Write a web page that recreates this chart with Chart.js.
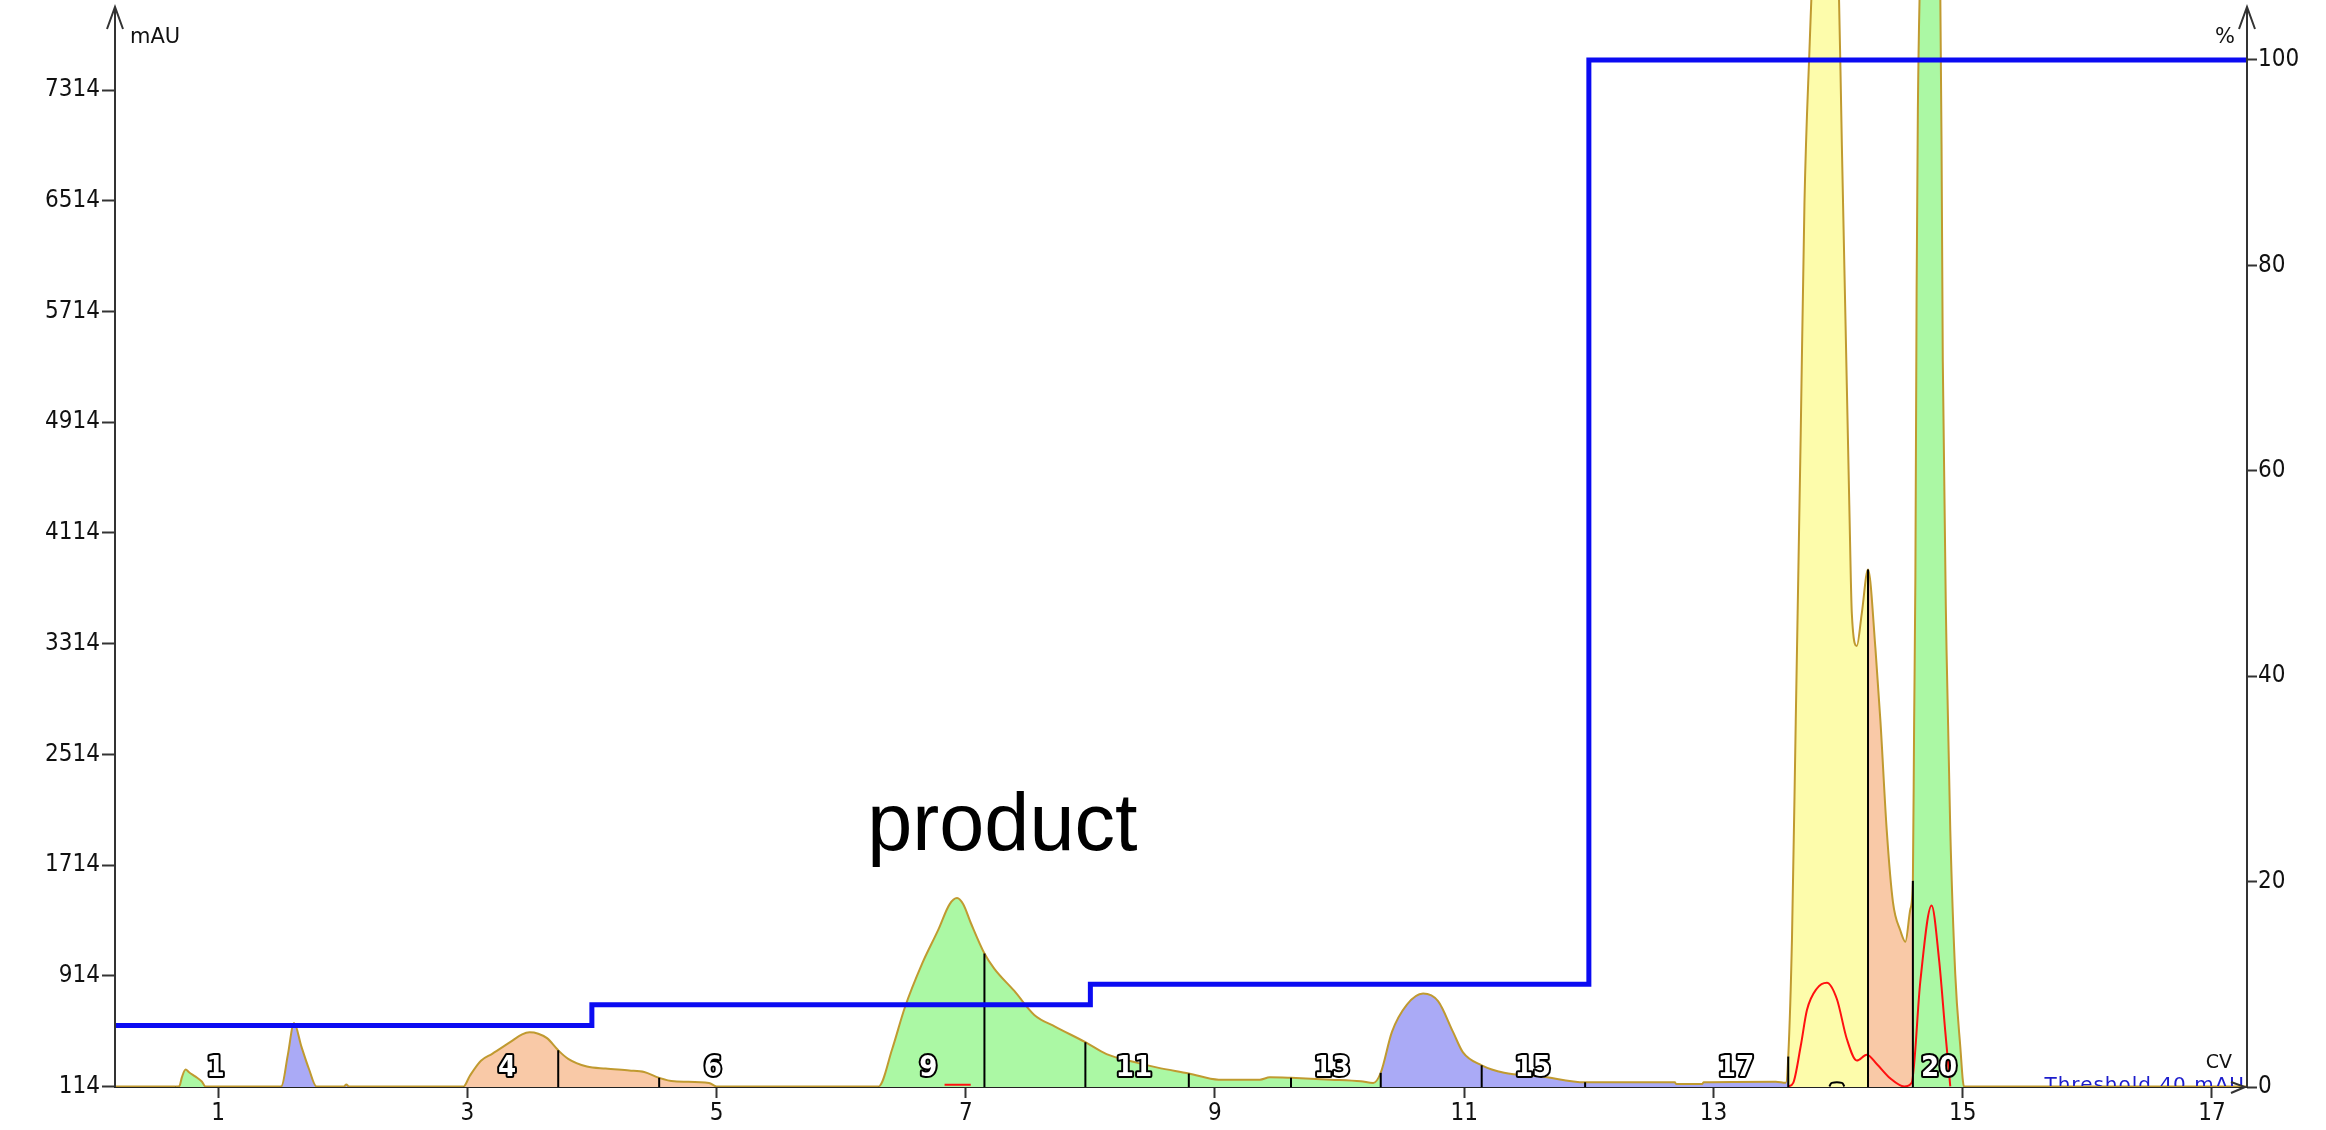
<!DOCTYPE html>
<html>
<head>
<meta charset="utf-8">
<title>Chromatogram</title>
<script src="https://cdn.jsdelivr.net/npm/chart.js@4.4.1/dist/chart.umd.min.js"></script>
<style>
  html, body { margin: 0; padding: 0; background: #fff; }
  canvas { display: block; }
</style>
</head>
<body>
<canvas id="chart" width="2326" height="1130"></canvas>
<script>
// UV trace, mAU against CV
const uvCV = [0.17, 0.66, 0.69, 0.71, 0.74, 0.77, 0.82, 0.87, 0.90, 1.49, 1.51, 1.56, 1.61, 1.67, 1.73, 1.79,
  2.01, 2.03, 2.05, 2.97, 3.02, 3.11, 3.20, 3.35, 3.44, 3.50, 3.57, 3.64, 3.73, 3.81, 3.96, 4.11, 4.30, 4.42,
  4.54, 4.66, 4.94, 5.00, 6.30, 6.41, 6.51, 6.65, 6.78, 6.87, 6.93, 6.98, 7.04, 7.15, 7.23, 7.39, 7.55, 7.72,
  7.96, 8.13, 8.37, 8.54, 8.79, 9.03, 9.36, 9.44, 9.61, 9.93, 10.17, 10.27, 10.33, 10.42, 10.54, 10.67, 10.79,
  10.91, 10.99, 11.14, 11.32, 11.61, 11.97, 12.69, 12.70, 12.91, 12.92, 13.50, 13.58, 13.60, 13.63, 13.66,
  13.70, 13.73, 13.77, 13.82, 13.88, 13.94, 14.00, 14.03, 14.06, 14.09, 14.11, 14.15, 14.19, 14.24, 14.30,
  14.34, 14.39, 14.44, 14.50, 14.54, 14.58, 14.60, 14.61, 14.62, 14.63, 14.64, 14.67, 14.72, 14.78, 14.82,
  14.83, 14.84, 14.87, 14.90, 14.94, 14.98, 15.01, 17.28];
const uvMAU = [114, 114, 116, 180, 236, 215, 185, 150, 114, 114, 116, 340, 572, 400, 240, 114,
  114, 128, 114, 114, 190, 300, 350, 438, 490, 505, 495, 463, 375, 313, 258, 243, 230, 219,
  176, 151, 139, 114, 114, 385, 681, 1001, 1247, 1430, 1475, 1430, 1297, 1075, 964, 804, 631, 545,
  434, 348, 286, 250, 208, 163, 163, 180, 176, 163, 151, 139, 213, 508, 705, 785, 730,
  508, 360, 267, 213, 188, 144, 144, 131, 131, 144, 148, 140, 330, 1186, 2749,
  4832, 6500, 7600, 8700, 9300, 9300, 8300, 6919, 5613, 4312, 3533, 3297, 3533, 3850, 3272,
  2749, 1968, 1446, 1239, 1160, 1396, 1600, 2749, 3792, 5874, 7175, 8500, 9300, 9300, 8000,
  6919, 5354, 3272, 1968, 926, 406, 114, 114];

// second wavelength (red)
const redCV = [6.83, 7.04, 7.05, 13.60, 13.64, 13.70, 13.75, 13.83, 13.91, 13.99, 14.07, 14.15, 14.23, 14.31,
  14.42, 14.53, 14.59, 14.66, 14.75, 14.81, 14.86, 14.90];
const redMAU = [127, 127, null, 114, 140, 406, 666, 822, 864, 746, 457, 301, 343, 276,
  171, 114, 140, 876, 1421, 1030, 510, 114];

// small black trace near 14 CV
const blackCV = [13.93, 13.95, 14.03, 14.05];
const blackMAU = [114, 140, 140, 114];

// gradient (% B), step changes
const stepCV = [0.1735, 4, 8, 12, 17.281];
const stepPct = [6, 8, 10, 100, 100];

// fraction marks
const fracCV = [3.73, 4.54, 7.15, 7.96, 8.79, 9.61, 10.33, 11.14, 11.97, 13.60, 14.24, 14.60];
const fracTop = [375, 176, 1075, 434, 208, 176, 213, 267, 144, 330, 3850, 1600];
const fracLabels = ['1', '4', '6', '9', '11', '13', '15', '17', '20'];
const fracLabelCV = [0.98, 3.32, 4.97, 6.70, 8.35, 9.94, 11.55, 13.18, 14.81];

// peak fill regions
const peakStartCV = [0.6, 1.45, 2.9, 6.2, 10.33, 13.60, 14.24, 14.60];
const peakColors = ['#abf8a4', '#aaaaf6', '#f9c9a7', '#abf8a4', '#aaaaf6', '#fdfcab', '#f9c9a7', '#abf8a4'];

// axes
const xTicks = [1, 3, 5, 7, 9, 11, 13, 15, 17];
const yTicks = [114, 914, 1714, 2514, 3314, 4114, 4914, 5714, 6514, 7314];
const pctTicks = [0, 20, 40, 60, 80, 100];
const xMin = 0.1735, xMax = 17.281;
const yMin = 110, yMax = 7965;
const pctMax = 105.84;

const tickFont = { family: "'DejaVu Sans Condensed', 'DejaVu Sans', sans-serif", size: 24 };

function peakColor(cv) {
    let c = 'rgba(0,0,0,0)';
    for (let i = 0; i < peakStartCV.length; i++) {
        if (cv >= peakStartCV[i] - 1e-9) c = peakColors[i];
    }
    return c;
}

// build point lists
const uvData = uvCV.map((x, i) => ({ x, y: uvMAU[i] }));
const redData = redCV.map((x, i) => ({ x, y: redMAU[i] }));
const blackData = blackCV.map((x, i) => ({ x, y: blackMAU[i] }));

const stepData = [];
stepCV.forEach((x, i) => {
    stepData.push({ x, y: stepPct[i] });
    if (i + 1 < stepCV.length) stepData.push({ x: stepCV[i + 1], y: stepPct[i] });
});

const fracData = [];
fracCV.forEach((x, i) => {
    fracData.push({ x, y: yMin }, { x, y: fracTop[i] }, { x, y: null });
});

// 文字和箭头
const extrasPlugin = {
    id: 'extras',
    afterDatasetsDraw(chart) {
        const { ctx, chartArea, scales: { x, y } } = chart;
        ctx.save();
        // fraction numbers, outlined
        ctx.font = "bold 29px 'Liberation Sans Narrow', 'DejaVu Sans Condensed', 'Liberation Sans', sans-serif";
        ctx.textAlign = 'center';
        ctx.textBaseline = 'alphabetic';
        ctx.lineJoin = 'round';
        ctx.lineWidth = 4;
        ctx.strokeStyle = '#000';
        ctx.fillStyle = '#fff';
        fracLabels.forEach((t, i) => {
            const px = x.getPixelForValue(fracLabelCV[i]);
            const py = y.getPixelForValue(190);
            ctx.strokeText(t, px, py);
            ctx.fillText(t, px, py);
        });
        // threshold note, cut by the axis
        ctx.beginPath();
        ctx.rect(chartArea.left, chartArea.top, chartArea.right - chartArea.left, chartArea.bottom - chartArea.top - 1);
        ctx.clip();
        ctx.font = "20px 'DejaVu Sans', sans-serif";
        if ('letterSpacing' in ctx) ctx.letterSpacing = '1px';
        ctx.fillStyle = '#1c1ccc';
        ctx.textAlign = 'right';
        ctx.fillText('Threshold 40 mAU', chartArea.right - 2, chartArea.bottom + 4);
        ctx.restore();
    },
    afterDraw(chart) {
        const { ctx, chartArea, scales: { x, y } } = chart;
        const { left, right, bottom } = chartArea;
        const top = 7;
        ctx.save();
        ctx.strokeStyle = '#333';
        ctx.lineWidth = 2;
        // y axis lines, starting below the top edge
        ctx.beginPath();
        ctx.moveTo(left, top); ctx.lineTo(left, bottom);
        ctx.moveTo(right, top); ctx.lineTo(right, bottom);
        ctx.stroke();
        // arrows
        ctx.beginPath();
        ctx.moveTo(left - 8, top + 22); ctx.lineTo(left, top); ctx.lineTo(left + 8, top + 22);
        ctx.moveTo(right - 8, top + 22); ctx.lineTo(right, top); ctx.lineTo(right + 8, top + 22);
        ctx.moveTo(right - 16, bottom - 5); ctx.lineTo(right - 2, bottom); ctx.lineTo(right - 16, bottom + 6);
        ctx.stroke();

        ctx.fillStyle = '#111';
        ctx.textBaseline = 'alphabetic';
        ctx.font = "21px 'DejaVu Sans', sans-serif";
        ctx.textAlign = 'left';
        ctx.fillText('mAU', left + 15, 43);
        ctx.fillText('%', right - 32, 43);
        ctx.font = "19px 'DejaVu Sans', sans-serif";
        ctx.textAlign = 'right';
        ctx.fillText('CV', right - 15, bottom - 19);

        ctx.fillStyle = '#000';
        ctx.font = "81px 'Liberation Sans', Arial, sans-serif";
        ctx.textAlign = 'left';
        ctx.fillText('product', x.getPixelForValue(6.21), y.getPixelForValue(1823));
        ctx.restore();
    }
};

function axisGrid(len) {
    return { drawOnChartArea: false, drawTicks: true, tickLength: len, tickColor: '#333', tickWidth: 2 };
}

function noPad(s) {
    s.paddingTop = 0;
    s.paddingBottom = 0;
    s.paddingLeft = 0;
    s.paddingRight = 0;
}

const chart = new Chart(document.getElementById('chart'), {
    type: 'line',
    data: {
        datasets: [
            {
                label: '%B',
                data: stepData,
                yAxisID: 'y2',
                borderColor: '#0b0bf2',
                borderWidth: 5,
                pointRadius: 0,
                fill: false,
                order: 0
            },
            {
                label: 'fractions',
                data: fracData,
                borderColor: '#000',
                borderWidth: 2,
                pointRadius: 0,
                fill: false,
                spanGaps: false,
                order: 1
            },
            {
                label: 'UV 2',
                data: redData,
                borderColor: '#ff1010',
                borderWidth: 2,
                pointRadius: 0,
                fill: false,
                spanGaps: false,
                cubicInterpolationMode: 'monotone',
                order: 2
            },
            {
                label: 'UV 3',
                data: blackData,
                borderColor: '#000',
                borderWidth: 2,
                pointRadius: 0,
                fill: false,
                tension: 0.4,
                order: 3
            },
            {
                label: 'UV',
                data: uvData,
                borderColor: '#c09a30',
                borderWidth: 2,
                pointRadius: 0,
                fill: 'origin',
                cubicInterpolationMode: 'monotone',
                segment: {
                    backgroundColor: ctx => peakColor(ctx.p0.parsed.x)
                },
                order: 4
            }
        ]
    },
    options: {
        responsive: false,
        devicePixelRatio: 1,
        animation: false,
        layout: { padding: 0 },
        plugins: {
            legend: { display: false },
            tooltip: { enabled: false }
        },
        scales: {
            x: {
                type: 'linear',
                min: xMin,
                max: xMax,
                z: 1,
                afterFit: s => { s.height = 43; noPad(s); },
                afterBuildTicks: s => { s.ticks = xTicks.map(v => ({ value: v })); },
                grid: axisGrid(11),
                border: { display: true, color: '#222', width: 2 },
                ticks: { font: tickFont, color: '#111', padding: 1, autoSkip: false, maxRotation: 0, callback: v => String(v) }
            },
            y: {
                type: 'linear',
                position: 'left',
                min: yMin,
                max: yMax,
                z: 1,
                afterFit: s => { s.width = 115; noPad(s); },
                afterBuildTicks: s => { s.ticks = yTicks.map(v => ({ value: v })); },
                grid: axisGrid(13),
                border: { display: false },
                ticks: { font: tickFont, color: '#111', padding: 2, autoSkip: false, callback: v => String(v) }
            },
            y2: {
                type: 'linear',
                position: 'right',
                min: 0,
                max: pctMax,
                z: 1,
                afterFit: s => { s.width = 79; noPad(s); },
                afterBuildTicks: s => { s.ticks = pctTicks.map(v => ({ value: v })); },
                grid: axisGrid(10),
                border: { display: false },
                ticks: { font: tickFont, color: '#111', padding: 1, autoSkip: false, callback: v => String(v) }
            }
        }
    },
    plugins: [extrasPlugin]
});
</script>
</body>
</html>
